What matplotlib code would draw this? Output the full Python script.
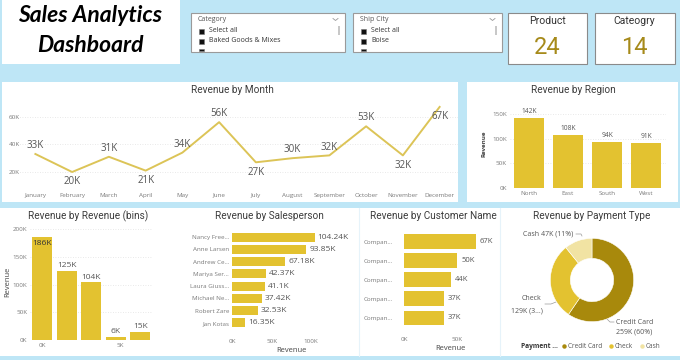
import matplotlib.pyplot as plt
from matplotlib.patches import Rectangle

# ---- data ----
months = ["January", "February", "March", "April", "May", "June", "July",
          "August", "September", "October", "November", "December"]
month_rev = [33, 20, 31, 21, 34, 56, 27, 30, 32, 53, 32, 67]  # K
month_label_below = [False, True, False, True, False, False, True,
                     False, False, False, True, True]

regions = ["North", "East", "South", "West"]
region_rev = [142, 108, 94, 91]

bin_rev = [186, 125, 104, 6, 15]
bin_ticks = ["0K", "5K"]

sales_people = ["Nancy Free...", "Anne Larsen", "Andrew Ce...", "Mariya Ser...",
                "Laura Giuss...", "Michael Ne...", "Robert Zare", "Jan Kotas"]
sales_rev = [104.24, 93.85, 67.18, 42.37, 41.1, 37.42, 32.53, 16.35]

customers = ["Compan...", "Compan...", "Compan...", "Compan...", "Compan..."]
customer_rev = [67, 50, 44, 37, 37]

pay_types = ["Credit Card", "Check", "Cash"]
pay_rev = [259, 129, 47]
pay_pct = [60, 30, 11]

product_count = 24
category_count = 14

# ---- style ----
W, H = 680, 360
BG = "#BEE6F6"
GOLD = "#E3C230"
LINE = "#DCC457"
DARK_GOLD = "#A8890C"
LIGHT_GOLD = "#F1E3A3"
CARD_NUM = "#A68A1A"
TITLE_C = "#3C3C3C"
TICK_C = "#7A7A7A"
LABEL_C = "#555555"

plt.rcParams["font.family"] = ["Open Sans", "DejaVu Sans"]

fig = plt.figure(figsize=(6.8, 3.6), dpi=100)
fig.patch.set_facecolor(BG)

base = fig.add_axes([0, 0, 1, 1])
base.set_xlim(0, W)
base.set_ylim(H, 0)
base.axis("off")


def panel(x, y, w, h, edge="none"):
    base.add_patch(Rectangle((x, y), w, h, facecolor="white",
                             edgecolor=edge, lw=0.8))


def ax_at(x, y, w, h):
    a = fig.add_axes([x / W, 1 - (y + h) / H, w / W, h / H])
    a.set_facecolor("none")
    for s in a.spines.values():
        s.set_visible(False)
    a.tick_params(length=0, labelsize=4.5, colors=TICK_C, pad=2)
    return a


def kfmt(v):
    return f"{v:g}K"


# ---- panels ----
panel(2, 0, 178, 64)
panel(191, 12.5, 154, 39, edge="#9A9A9A")
panel(353, 12.5, 149, 39, edge="#9A9A9A")
panel(508, 12.5, 79, 51.5, edge="#8A8A8A")
panel(594.5, 12.5, 80, 51.5, edge="#8A8A8A")
panel(2, 82, 456, 120)
panel(467, 82, 211, 120)
panel(0, 208, 680, 148)
for xs in (359, 500):
    base.plot([xs, xs], [208, 356], color="#E6F3FA", lw=0.8)

# ---- header ----
base.text(90, 16, "Sales Analytics", ha="center", va="center", fontsize=16.5,
          fontweight="bold", style="italic", family=["Lato", "DejaVu Sans"])
base.text(90, 45, "Dashboard", ha="center", va="center", fontsize=16.5,
          fontweight="bold", style="italic", family=["Lato", "DejaVu Sans"])


def slicer(x, w, title, rows):
    base.text(x + 7, 19.5, title, fontsize=5, color="#555555", va="center")
    base.plot([x + w - 12, x + w - 9.5, x + w - 7], [18.5, 20.5, 18.5],
              color="#999999", lw=0.6)
    for i, r in enumerate(rows):
        yy = 31 + i * 10
        hh = 5 if yy + 2.5 < 51 else 51 - (yy - 2.5)
        base.add_patch(Rectangle((x + 8, yy - 2.5), 5, hh, facecolor="#111111",
                                 edgecolor="#777777", lw=0.4))
        if yy < 45:
            base.text(x + 18, yy, r, fontsize=5, color="#333333", va="center")
    base.add_patch(Rectangle((x + w - 7, 26), 2, 9, facecolor="#C8C8C8"))


slicer(191, 154, "Category", ["Select all", "Baked Goods & Mixes", ""])
slicer(353, 149, "Ship City", ["Select all", "Boise", ""])


def card(cx, label, value):
    base.text(cx, 20.5, label, ha="center", va="center", fontsize=7.5,
              color="#333333", family=["Roboto", "DejaVu Sans"])
    base.text(cx, 48, str(value), ha="center", va="center", fontsize=17,
              color=CARD_NUM, family=["Roboto", "DejaVu Sans"])


card(547.5, "Product", product_count)
card(634.5, "Cateogry", category_count)

# ---- titles ----
for tx, ty, t in [(232, 90, "Revenue by Month"), (573, 90, "Revenue by Region"),
                  (88, 216, "Revenue by Revenue (bins)"),
                  (269, 216, "Revenue by Salesperson"),
                  (433, 216, "Revenue by Customer Name"),
                  (592, 216, "Revenue by Payment Type")]:
    base.text(tx, ty, t, ha="center", va="center", fontsize=7.2, color=TITLE_C,
              family=["Roboto", "DejaVu Sans"])

# ---- Revenue by Month ----
ax = ax_at(17, 100, 441, 90)
xs = list(range(len(months)))
ax.plot(xs, month_rev, color=LINE, lw=1.4)
ax.set_xlim(-0.5, 11.5)
ax.set_ylim(7, 72)
ax.set_yticks([20, 40, 60])
ax.set_yticklabels(["20K", "40K", "60K"])
ax.set_xticks(xs)
ax.set_xticklabels(months)
ax.yaxis.grid(True, color="#E2E2E2", lw=0.6, ls=(0, (1, 2)))
ax.tick_params(axis="y", pad=-2)
for x, v, below in zip(xs, month_rev, month_label_below):
    ax.annotate(kfmt(v), (x, v), xytext=(0, -7 if below else 6),
                textcoords="offset points", ha="center", va="center",
                fontsize=7, color=LABEL_C)

# ---- Revenue by Region ----
ax = ax_at(509.5, 100, 156, 88)
ax.bar(regions, region_rev, width=0.75, color=GOLD, zorder=2)
ax.set_xlim(-0.5, 3.5)
ax.set_ylim(0, 178)
ax.set_yticks([0, 50, 100, 150])
ax.set_yticklabels(["0K", "50K", "100K", "150K"])
ax.yaxis.grid(True, color="#E2E2E2", lw=0.6, ls=(0, (1, 2)))
ax.set_axisbelow(True)
ax.set_ylabel("Revenue", fontsize=4.5, color="#444444", fontweight="bold", labelpad=4)
for i, v in enumerate(region_rev):
    ax.text(i, v + 6, kfmt(v), ha="center", va="bottom", fontsize=4.8, color=LABEL_C)

# ---- Revenue by Revenue (bins) ----
ax = ax_at(30, 223.5, 122.5, 116.5)
bx = list(range(len(bin_rev)))
ax.bar(bx, bin_rev, width=0.82, color=GOLD, zorder=2)
ax.set_xlim(-0.5, 4.5)
ax.set_ylim(0, 210)
ax.set_yticks([0, 50, 100, 150, 200])
ax.set_yticklabels(["0K", "50K", "100K", "150K", "200K"])
ax.set_xticks([0, 3.2])
ax.set_xticklabels(bin_ticks)
ax.yaxis.grid(True, color="#E2E2E2", lw=0.6, ls=(0, (1, 2)))
ax.set_axisbelow(True)
ax.set_ylabel("Revenue", fontsize=5.5, color="#444444", labelpad=1)
for i, v in enumerate(bin_rev):
    if v > 180:
        ax.text(i, v - 6, kfmt(v), ha="center", va="top", fontsize=6, color="#333333")
    else:
        ax.text(i, v + 3, kfmt(v), ha="center", va="bottom", fontsize=6, color=LABEL_C)

# ---- Revenue by Salesperson ----
ax = ax_at(232, 231, 118, 98)
sy = list(range(len(sales_people)))
ax.barh(sy, sales_rev, height=0.73, color=GOLD)
ax.set_xlim(0, 149)
ax.set_ylim(7.5, -0.5)
ax.set_yticks(sy)
ax.set_yticklabels(sales_people)
ax.set_xticks([0, 50, 100])
ax.set_xticklabels(["0K", "50K", "100K"])
ax.tick_params(axis="x", pad=7)
ax.set_xlabel("Revenue", fontsize=5.5, color="#444444", labelpad=2)
for i, v in enumerate(sales_rev):
    ax.text(v + 4, i, kfmt(v), ha="left", va="center", fontsize=6, color=LABEL_C)

# ---- Revenue by Customer Name ----
ax = ax_at(404, 232, 93, 95.5)
cy = list(range(len(customers)))
ax.barh(cy, customer_rev, height=0.77, color=GOLD)
ax.set_xlim(0, 87)
ax.set_ylim(4.5, -0.5)
ax.set_yticks(cy)
ax.set_yticklabels(customers)
ax.tick_params(axis="y", pad=8)
ax.set_xticks([0, 50])
ax.set_xticklabels(["0K", "50K"])
ax.tick_params(axis="x", pad=7)
ax.set_xlabel("Revenue", fontsize=5.5, color="#444444", labelpad=2)
for i, v in enumerate(customer_rev):
    ax.text(v + 3.5, i, kfmt(v), ha="left", va="center", fontsize=5.5, color=LABEL_C)

# ---- Revenue by Payment Type ----
ax = ax_at(542, 230, 100, 100)
ax.pie(pay_rev, colors=[DARK_GOLD, GOLD, LIGHT_GOLD], startangle=90,
       counterclock=False, radius=1, wedgeprops=dict(width=0.48, edgecolor="white", lw=0.4))
ax.set_xlim(-1.2, 1.2)
ax.set_ylim(-1.2, 1.2)
ax.set_aspect("equal")

base.text(548, 234, f"Cash {pay_rev[2]}K ({pay_pct[2]}%)", ha="center", va="center",
          fontsize=5, color=LABEL_C)
base.plot([576, 581, 582], [234, 234, 236], color="#999999", lw=0.5)
base.text(532, 299, "Check", ha="center", va="center", fontsize=5, color=LABEL_C)
base.text(527, 311, f"{pay_rev[1]}K (3...)", ha="center", va="center", fontsize=5, color=LABEL_C)
base.plot([545, 551, 556], [304, 304, 302], color="#999999", lw=0.5)
base.text(616, 322, "Credit Card", ha="left", va="center", fontsize=5, color=LABEL_C)
base.text(616, 332, f"{pay_rev[0]}K ({pay_pct[0]}%)", ha="left", va="center",
          fontsize=5, color=LABEL_C)
base.plot([606, 610, 614], [318, 322, 322], color="#999999", lw=0.5)

base.text(521, 346, "Payment ...", ha="left", va="center", fontsize=4.8,
          fontweight="bold", color="#333333")
legend_x = [564, 611, 642]
for lx, name, col in zip(legend_x, pay_types, [DARK_GOLD, GOLD, LIGHT_GOLD]):
    base.plot([lx], [346], marker="o", ms=3.2, color=col, mec="none")
    base.text(lx + 3.5, 346, name, ha="left", va="center", fontsize=4.7, color=LABEL_C)

fig.savefig("out.png", dpi=100, facecolor=BG)
